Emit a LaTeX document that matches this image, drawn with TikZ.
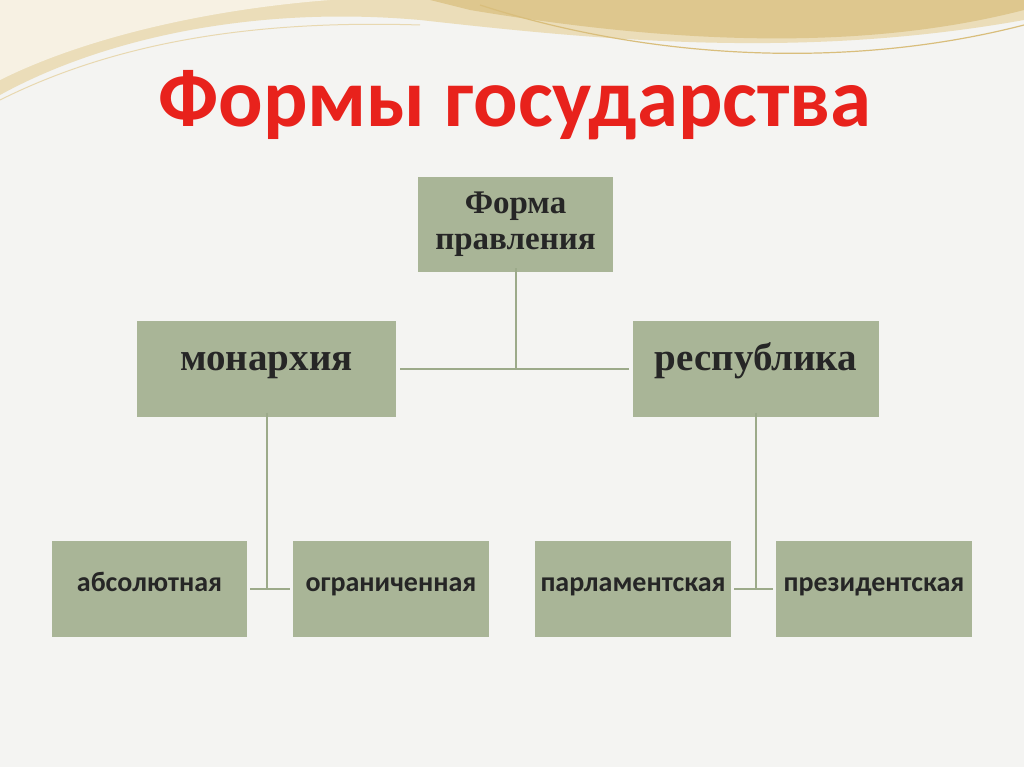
\documentclass[tikz,border=0pt]{standalone}
\usepackage{fontspec}
\setmainfont{Liberation Serif}
\newfontfamily\carfont{Carlito}
\definecolor{boxg}{HTML}{A9B597}
\definecolor{lineg}{HTML}{9CAA8A}
\definecolor{txt}{HTML}{262626}
\definecolor{ttl}{HTML}{E8221C}
\definecolor{bg}{HTML}{F4F4F2}
\definecolor{wav1}{HTML}{EBDDB9}
\definecolor{wav2}{HTML}{D9BE7C}
\tikzset{
 box/.style={fill=boxg,draw=none,minimum width=#1,align=center,text=txt,minimum height=96pt,inner sep=0pt},
 big/.style={font=\bfseries\fontsize{39}{42}\selectfont,text height=0.7em,text depth=0.22em},
 mid/.style={font=\bfseries\fontsize{33}{36}\selectfont},
 small/.style={font=\carfont\bfseries\fontsize{28}{30}\selectfont,text height=0.7em,text depth=0.22em},
 conn/.style={draw=lineg,line width=2pt}
}
\begin{document}
\begin{tikzpicture}[x=1pt,y=-1pt]
\useasboundingbox (0,0) rectangle (1024,767);
\fill[bg] (0,0) rectangle (1024,767);
% top decoration
\fill[wav1] (0,0) -- (1024,0) -- (1024,20) .. controls (800,60) and (600,40) .. (420,20) .. controls (250,5) and (100,40) .. (0,95) -- cycle;
\fill[wav2!70!wav1] (430,0) -- (1024,0) -- (1024,10) .. controls (850,55) and (650,40) .. (470,10) -- cycle;
\fill[white!60!wav1] (0,0) -- (330,0) .. controls (200,10) and (80,40) .. (0,80) -- cycle;
\draw[wav2,line width=1.2pt] (1024,25) .. controls (850,70) and (650,60) .. (480,5);
\draw[wav2!60,line width=1pt] (0,100) .. controls (120,40) and (260,20) .. (420,25);
\node[text=ttl,font=\carfont\bfseries\fontsize{83}{86}\selectfont] (title) at (515,105) {Формы государства};
\node[box=195pt,mid,minimum height=95pt] (top) at (515.5,224.5) {Форма\\правления};
\node[box=259pt,big] (mon) at (266.5,368.5) {монархия};
\node[box=246pt,big] (rep) at (756,368.5) {республика};
\node[box=195pt,small] (abs) at (149.5,589) {абсолютная};
\node[box=196pt,small] (ogr) at (391,589) {ограниченная};
\node[box=196pt,small] (par) at (633,589) {парламентская};
\node[box=196pt,small] (pre) at (874,589) {президентская};
\coordinate (j1) at (515.5,368.5);
\coordinate (j2) at (266.5,589);
\coordinate (j3) at (756,589);
\draw[conn] ([yshift=4pt]top.south) -- (j1);
\draw[conn] ([xshift=4pt]mon.east) -- ([xshift=-4pt]rep.west);
\draw[conn] ([yshift=4pt]mon.south) -- (j2);
\draw[conn] ([xshift=3pt]abs.east) -- ([xshift=-3pt]ogr.west);
\draw[conn] ([yshift=4pt]rep.south) -- (j3);
\draw[conn] ([xshift=3pt]par.east) -- ([xshift=-3pt]pre.west);
\end{tikzpicture}
\end{document}
